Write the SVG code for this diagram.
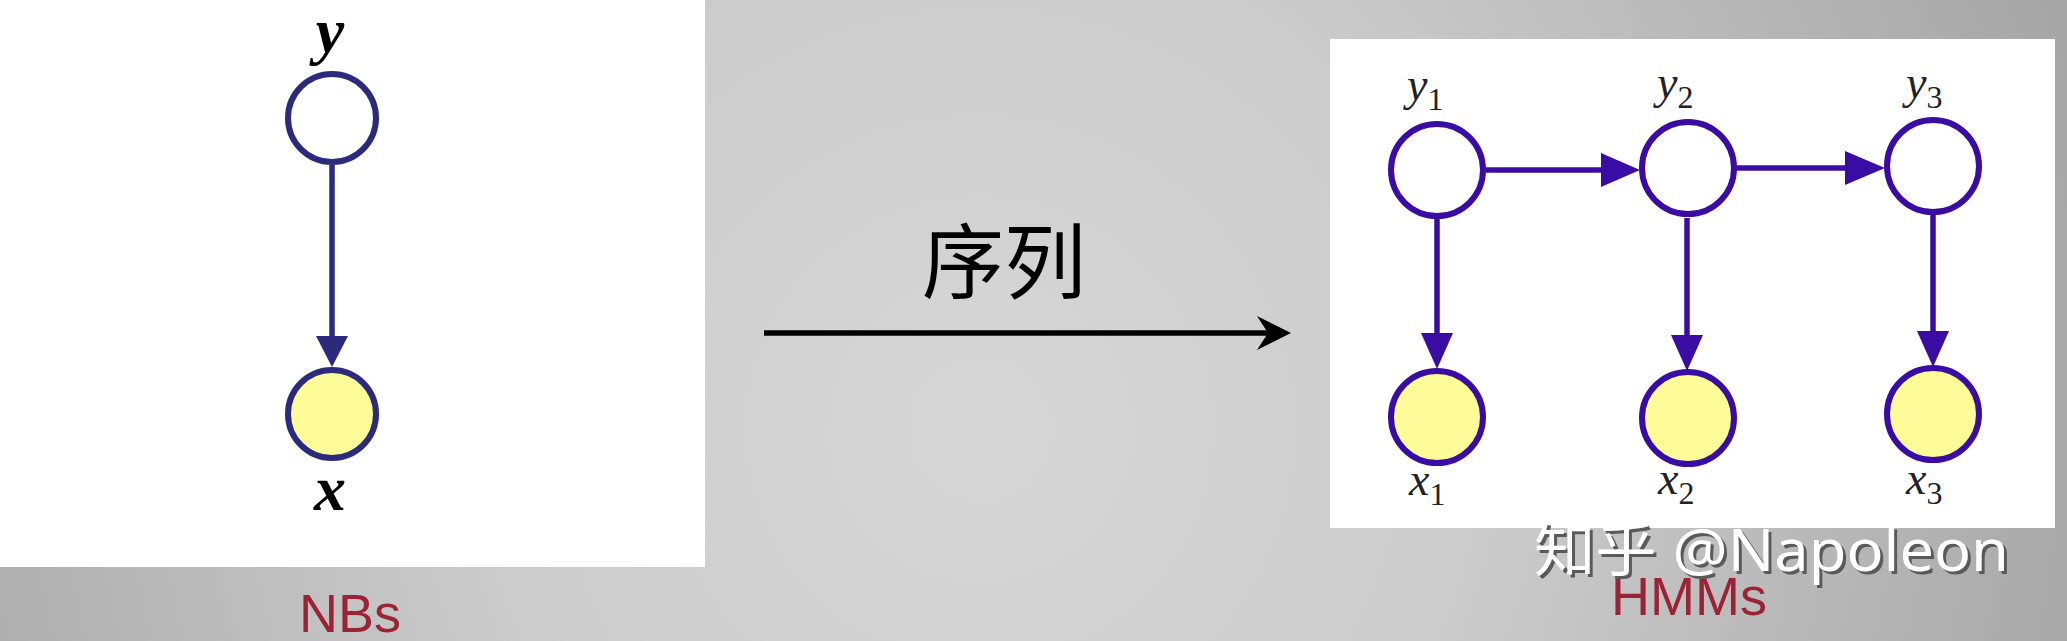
<svg xmlns="http://www.w3.org/2000/svg" width="2067" height="641" viewBox="0 0 2067 641">
  <defs>
    <radialGradient id="bg" gradientUnits="userSpaceOnUse" cx="980" cy="430" r="1150">
      <stop offset="0" stop-color="#d7d7d7"/>
      <stop offset="0.45" stop-color="#cbcbcb"/>
      <stop offset="1" stop-color="#a6a6a6"/>
    </radialGradient>
    <style>
      .nb-node { stroke: #2c2a7c; stroke-width: 6; }
      .hmm-node { stroke: #3a0ca3; stroke-width: 6; }
      .hidden { fill: #ffffff; }
      .obs { fill: #fdfc98; }
      .nb-edge { stroke: #2c2a7c; stroke-width: 5.5; fill: none; }
      .nb-head { fill: #2c2a7c; }
      .hmm-edge { stroke: #3a0ca3; stroke-width: 5.5; fill: none; }
      .hmm-head { fill: #3a0ca3; }
      .bi { font-family: "Liberation Serif", "Times New Roman", serif; font-style: italic; font-weight: bold; font-size: 64px; fill: #000; }
      .cm { font-family: "Liberation Serif", "Times New Roman", serif; font-style: italic; font-size: 46px; fill: #222; }
      .sub { font-style: normal; font-size: 32px; }
      .cap { font-family: "Liberation Sans", Arial, sans-serif; font-size: 54px; fill: #9b2335; }
      .zh { font-family: "Noto Sans CJK SC", "Noto Sans", sans-serif; font-size: 82px; fill: #000; }
      .wm { font-family: "Noto Sans", "Noto Sans CJK SC", sans-serif; font-size: 58px; }
    </style>
  </defs>

  <!-- background -->
  <rect x="0" y="0" width="2067" height="641" fill="url(#bg)"/>

  <!-- panels -->
  <rect id="nb-panel" x="0" y="0" width="705" height="567" fill="#ffffff"/>
  <rect id="hmm-panel" x="1330" y="39" width="725" height="489" fill="#ffffff"/>

  <!-- connectors -->
  <g id="connectors">
    <line class="nb-edge" x1="332" y1="165" x2="332" y2="338"/>
    <polygon class="nb-head" points="316,336 348,336 332,367"/>

    <line class="hmm-edge" x1="1486" y1="170" x2="1604" y2="170"/>
    <polygon class="hmm-head" points="1601,153 1601,187 1640,170"/>
    <line class="hmm-edge" x1="1736" y1="168" x2="1848" y2="168"/>
    <polygon class="hmm-head" points="1845,151 1845,185 1885,168"/>

    <line class="hmm-edge" x1="1437" y1="219" x2="1437" y2="336"/>
    <polygon class="hmm-head" points="1421,333 1453,333 1437,369"/>
    <line class="hmm-edge" x1="1687" y1="218" x2="1687" y2="338"/>
    <polygon class="hmm-head" points="1671,335 1703,335 1687,371"/>
    <line class="hmm-edge" x1="1933" y1="214" x2="1933" y2="334"/>
    <polygon class="hmm-head" points="1917,331 1949,331 1933,367"/>

    <line x1="764" y1="333" x2="1272" y2="333" stroke="#000" stroke-width="5.5"/>
    <path d="M1291,333 L1257,316 L1268,333 L1257,350 Z" fill="#000"/>
  </g>

  <!-- NB nodes -->
  <g id="nb-y">
    <circle class="nb-node hidden" cx="332" cy="118" r="44"/>
    <text class="bi" x="330" y="52" text-anchor="middle">y</text>
  </g>
  <g id="nb-x">
    <circle class="nb-node obs" cx="332" cy="414" r="44"/>
    <text class="bi" x="330" y="510" text-anchor="middle">x</text>
  </g>

  <!-- HMM nodes -->
  <g id="hmm-y1">
    <circle class="hmm-node hidden" cx="1437" cy="170" r="46"/>
    <text class="cm" x="1407" y="100">y<tspan class="sub" dy="10">1</tspan></text>
  </g>
  <g id="hmm-y2">
    <circle class="hmm-node hidden" cx="1688" cy="168" r="46"/>
    <text class="cm" x="1657" y="98">y<tspan class="sub" dy="10">2</tspan></text>
  </g>
  <g id="hmm-y3">
    <circle class="hmm-node hidden" cx="1933" cy="166" r="46"/>
    <text class="cm" x="1906" y="98">y<tspan class="sub" dy="10">3</tspan></text>
  </g>
  <g id="hmm-x1">
    <circle class="hmm-node obs" cx="1437" cy="417" r="46"/>
    <text class="cm" x="1409" y="495">x<tspan class="sub" dy="10">1</tspan></text>
  </g>
  <g id="hmm-x2">
    <circle class="hmm-node obs" cx="1688" cy="418" r="46"/>
    <text class="cm" x="1658" y="494">x<tspan class="sub" dy="10">2</tspan></text>
  </g>
  <g id="hmm-x3">
    <circle class="hmm-node obs" cx="1933" cy="414" r="46"/>
    <text class="cm" x="1906" y="494">x<tspan class="sub" dy="10">3</tspan></text>
  </g>

  <!-- labels -->
  <text class="zh" x="1004" y="292" text-anchor="middle">序列</text>
  <text class="cap" x="350" y="632" text-anchor="middle">NBs</text>
  <text class="cap" x="1689" y="615" text-anchor="middle">HMMs</text>

  <!-- watermark -->
  <g id="watermark">
    <text class="wm" x="1537" y="574" fill="#5a5a5a" textLength="475" lengthAdjust="spacingAndGlyphs">知乎 @Napoleon</text>
    <text class="wm" x="1534" y="571" fill="#ffffff" textLength="475" lengthAdjust="spacingAndGlyphs">知乎 @Napoleon</text>
  </g>
</svg>
